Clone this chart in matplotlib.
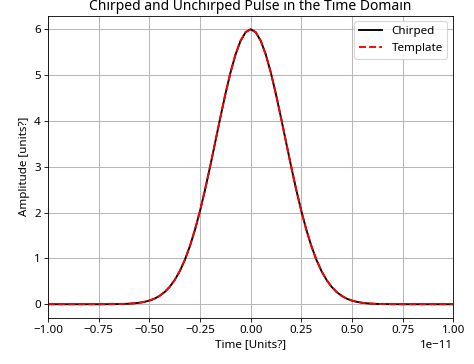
import matplotlib
matplotlib.use("Agg")
import matplotlib.pyplot as plt
import numpy as np

# time samples (units of 1e-11)
t_half = [0.0, 0.025, 0.05, 0.075, 0.1, 0.125, 0.15, 0.175, 0.2, 0.225, 0.25,
          0.275, 0.3, 0.325, 0.35, 0.375, 0.4, 0.425, 0.45, 0.475, 0.5,
          0.525, 0.55, 0.575, 0.6, 0.625, 0.65, 0.675, 0.7, 0.75, 0.8,
          0.85, 0.9, 0.95, 1.0]
amp_half = [6.000, 5.936, 5.746, 5.444, 5.047, 4.579, 4.065, 3.532, 3.003,
            2.499, 2.035, 1.622, 1.265, 0.965, 0.721, 0.527, 0.377, 0.264,
            0.181, 0.121, 0.079, 0.051, 0.032, 0.020, 0.012, 0.007, 0.004,
            0.002, 0.001, 0.0, 0.0, 0.0, 0.0, 0.0, 0.0]

time = [-v * 1e-11 for v in t_half[:0:-1]] + [v * 1e-11 for v in t_half]
chirped = amp_half[:0:-1] + amp_half
template = amp_half[:0:-1] + amp_half

plt.rcParams['font.family'] = ['Noto Sans', 'DejaVu Sans']
plt.rcParams['font.size'] = 11

dpi = 76
fig = plt.figure(figsize=(474 / dpi, 364 / dpi), dpi=dpi)
ax = fig.add_axes([0.1013, 0.1264, 0.855, 0.831])

ax.plot(time, chirped, color="black", lw=1.8, label="Chirped")
ax.plot(time, template, color="red", linestyle="--", lw=1.8, label="Template")
ax.set_xlim(-1e-11, 1e-11)
ax.set_title("Chirped and Unchirped Pulse in the Time Domain", pad=5)
ax.set_xlabel("Time [Units?]", labelpad=2.5)
ax.set_ylabel("Amplitude [units?]")
ax.grid(True, color="#b8b8b8", lw=1.0)
ax.legend(loc="upper right")

fig.savefig("out.png", dpi=dpi)
